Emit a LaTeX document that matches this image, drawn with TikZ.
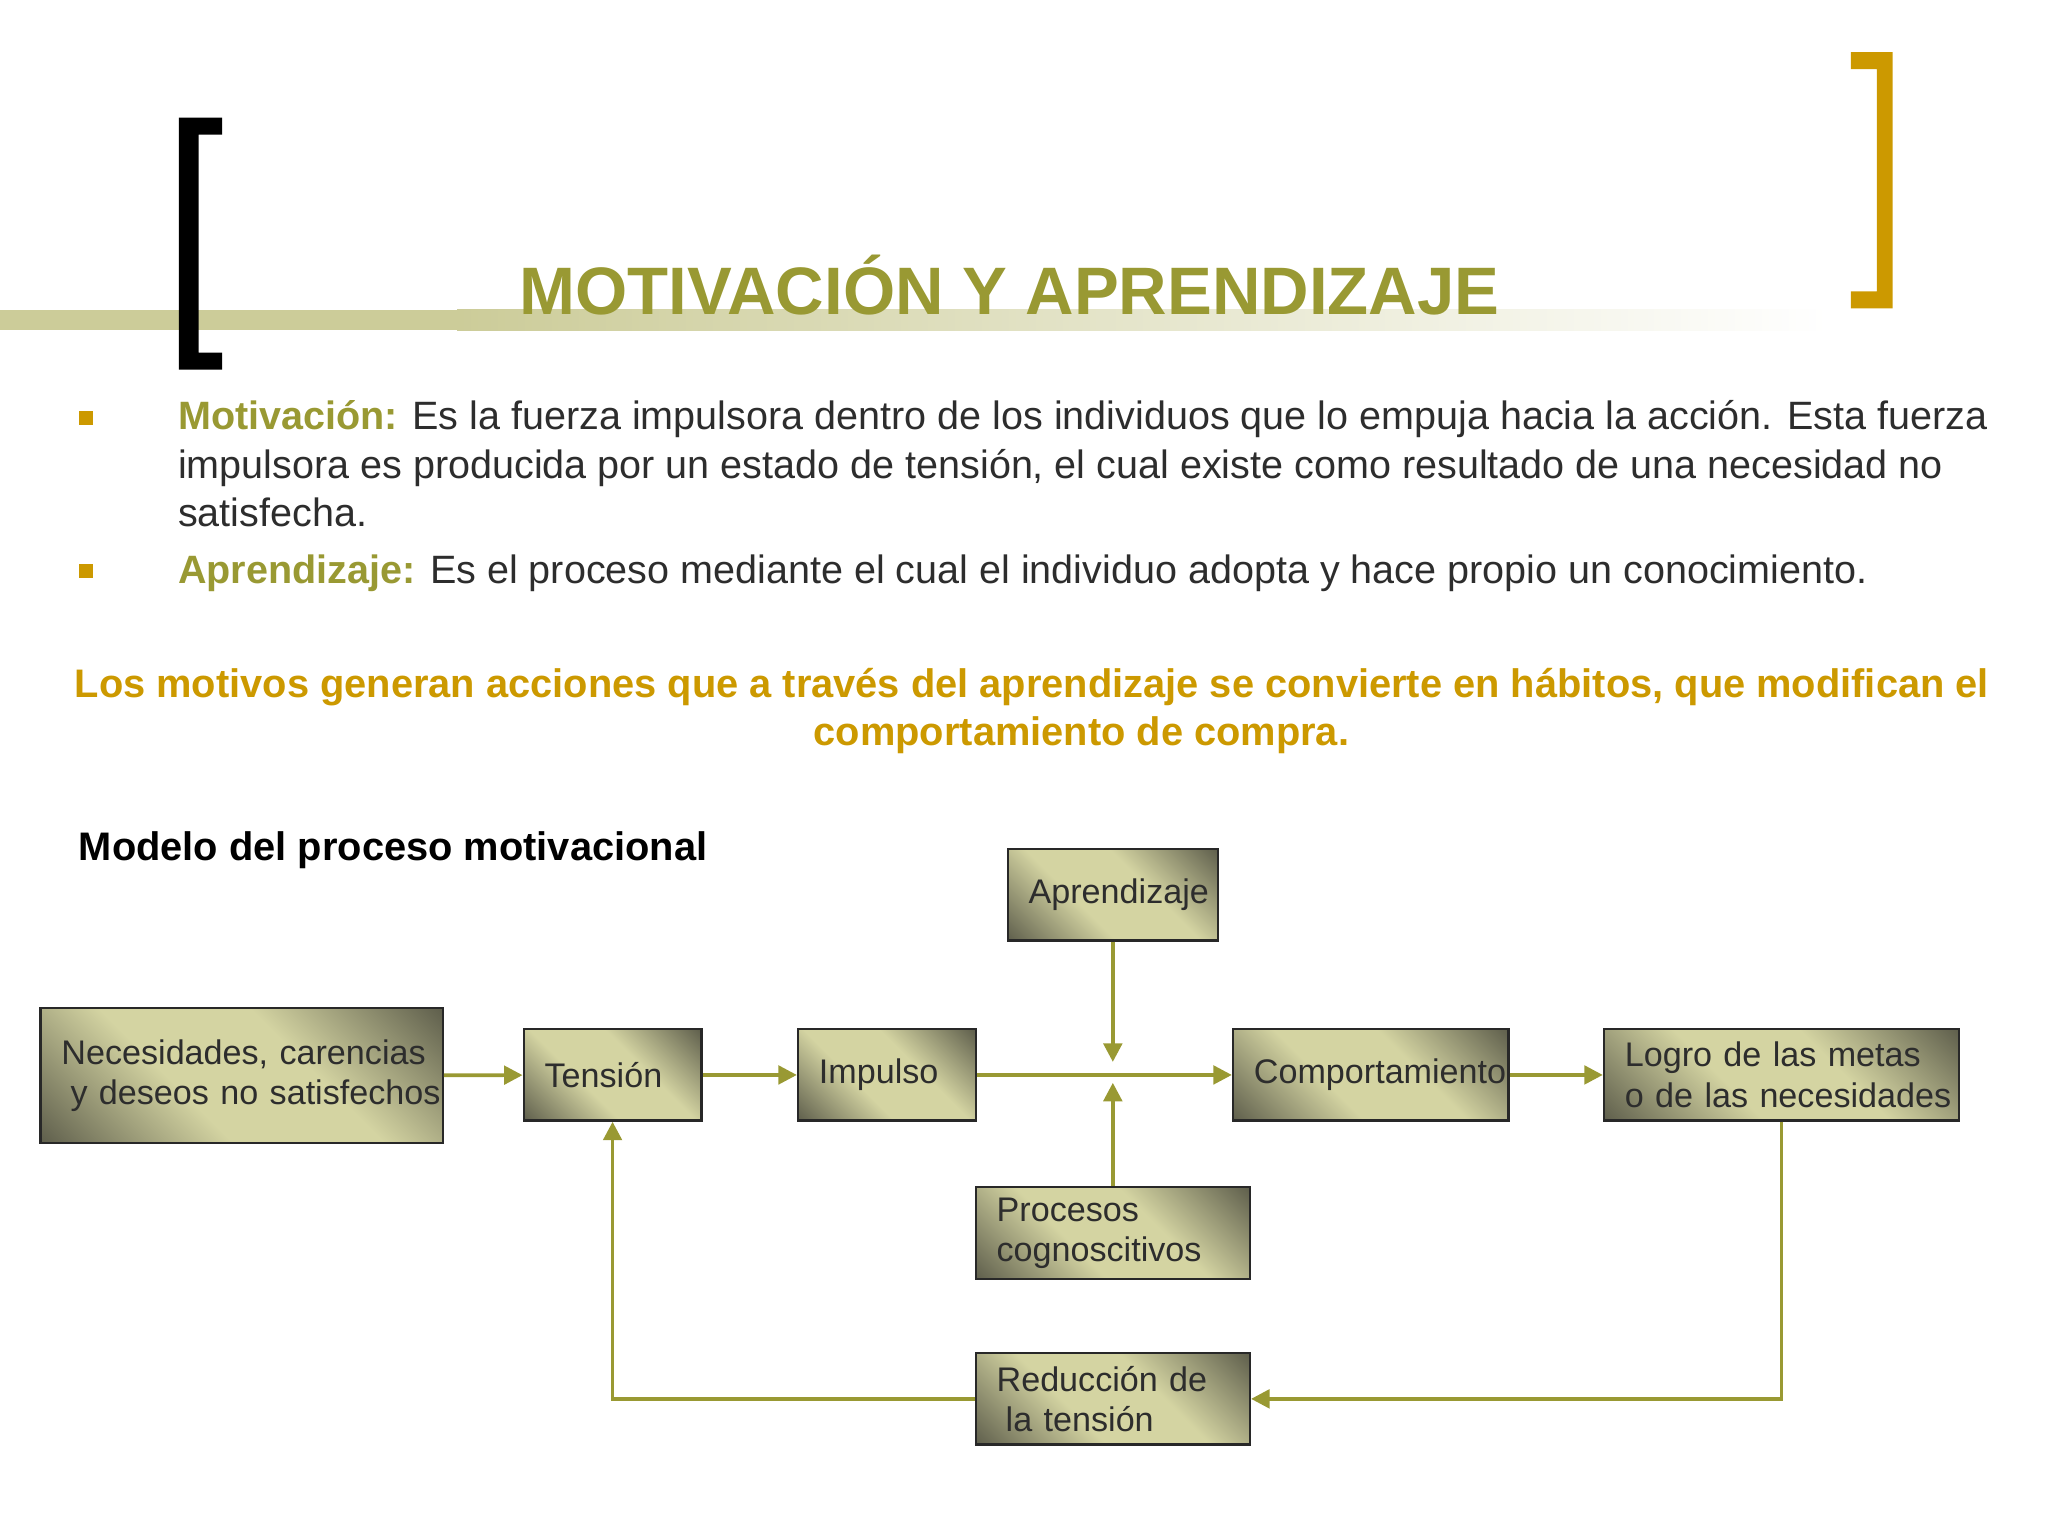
\documentclass[tikz,border=0pt]{standalone}
\usepackage{fontspec}
\setmainfont{Liberation Sans}
\usepackage{tikz}
\usetikzlibrary{arrows.meta}

\definecolor{olv}{RGB}{153,153,51}
\definecolor{gld}{RGB}{204,153,0}
\definecolor{bnd}{RGB}{204,204,153}
\definecolor{bxlight}{RGB}{212,212,162}
\definecolor{bxdark}{RGB}{92,92,74}
\definecolor{txt}{RGB}{45,45,45}
\pgfdeclareverticalshading{boxsh}{100bp}{color(0bp)=(bxdark); color(14bp)=(bxdark); color(40bp)=(bxlight); color(60bp)=(bxlight); color(86bp)=(bxdark); color(100bp)=(bxdark)}

\begin{document}
\begin{tikzpicture}[x=0.4592pt,y=0.4592pt,yscale=-1,xscale=1,
  blk/.style={draw={rgb,255:red,40;green,40;blue,40}, line width=0.8pt,
    shading=boxsh, shading angle=-45,
    inner xsep=7.35pt, inner ysep=0pt, align=left, text=txt,
    font=\fontsize{12}{14.2}\selectfont, minimum height=32.1pt},
  arr/.style={draw=olv, line width=1.3pt, -{Triangle[length=6.5pt,width=6.5pt]}},
  bul/.style={fill=gld, minimum size=5pt, inner sep=0pt},
  body/.style={anchor=base west, align=left, text=txt, inner sep=0pt, font=\fontsize{13.9}{17}\selectfont}]
\path[use as bounding box] (0,0) rectangle (1568,1176);

%Title band
\fill[bnd] (0,237) rectangle (350,253);
\shade[left color=bnd, right color=white] (350,237) rectangle (1400,253);
%Brackets
\fill[black] (170,90) -- (137,90) -- (137,283) -- (170,283) -- (170,270) -- (152,270) -- (152,103) -- (170,103) -- cycle;
\fill[gld] (1417,40) -- (1449,40) -- (1449,236) -- (1417,236) -- (1417,223) -- (1437,223) -- (1437,53) -- (1417,53) -- cycle;

% Text Node
\node[anchor=base, inner sep=0pt, text=olv, font=\fontsize{23.6}{28}\selectfont\bfseries] (title) at (773,241) {MOTIVACIÓN Y APRENDIZAJE};

% Bullets and text (base = last line)
\node[bul] (b1) at (66,320) {};
\node[body] (mot) at (136,403) {\textcolor{olv}{\bfseries Motivación:} Es la fuerza impulsora dentro de los individuos que lo empuja hacia la acción. Esta fuerza\\impulsora es producida por un estado de tensión, el cual existe como resultado de una necesidad no\\satisfecha.};
\node[bul] (b2) at (66,437) {};
\node[body] (apz) at (136,447) {\textcolor{olv}{\bfseries Aprendizaje:} Es el proceso mediante el cual el individuo adopta y hace propio un conocimiento.};

% Text Node
\node[anchor=base, inner sep=0pt, text=gld, font=\fontsize{14}{17}\selectfont\bfseries] (s1) at (790,534) {Los motivos generan acciones que a través del aprendizaje se convierte en hábitos, que modifican el};
\node[anchor=base, inner sep=0pt, text=gld, font=\fontsize{14}{17}\selectfont\bfseries] (s2) at (828,571) {comportamiento de compra.};
% Text Node
\node[anchor=base west, inner sep=0pt, font=\fontsize{14}{17}\selectfont\bfseries] (mod) at (60,659) {Modelo del proceso motivacional};

%Shape: Rectangle
\node[blk, text width=126.7pt, minimum height=47.3pt] (nec) at (185,823.5) {\mbox{Necesidades, carencias}\\\mbox{\hspace*{3.2pt}y deseos no satisfechos}};
\node[blk, text width=47.8pt] (ten) at (469,823) {Tensión};
\node[blk, text width=47.8pt] (imp) at (679,823) {Impulso};
\node[blk, text width=59.2pt] (apr) at (852,685) {Aprendizaje};
\node[blk, text width=82.2pt] (com) at (1049.5,823) {Comportamiento};
\node[blk, text width=110.2pt] (log) at (1364,823) {\mbox{Logro de las metas}\\\mbox{o de las necesidades}};
\node[blk, text width=81.7pt] (pro) at (852,944) {Procesos\\cognoscitivos};
\node[blk, text width=81.7pt] (red) at (852,1071) {Reducción de\\\hspace*{3.2pt}la tensión};

\coordinate (jt) at (852,813);
\coordinate (jb) at (852,829);

%Straight Lines
\draw[arr] (nec) -- (ten);
\draw[arr] (ten) -- (imp);
\draw[arr] (imp) -- (com);
\draw[arr] (apr) -- (jt);
\draw[arr] (pro) -- (jb);
\draw[arr] (com) -- (log);
\draw[arr] (log) |- (red);
\draw[arr] (red) -| (ten);

\end{tikzpicture}
\end{document}
